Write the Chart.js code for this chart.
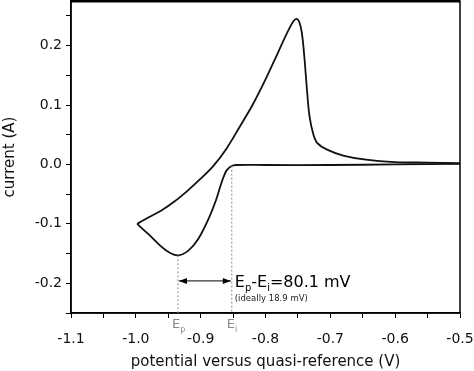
<!DOCTYPE html>
<html>
<head>
<meta charset="utf-8">
<script src="https://cdn.jsdelivr.net/npm/chart.js@4.4.0/dist/chart.umd.min.js"></script>
<style>
  html, body { margin: 0; padding: 0; background: #fff; }
  #wrap { width: 474px; height: 371px; }
</style>
</head>
<body>
<div id="wrap"><canvas id="cv"></canvas></div>
<script>
// cyclic voltammogram
// cathodic sweep: from -0.5 V down to the vertex
var potentialDown = [-0.50, -0.60, -0.70, -0.80, -0.845, -0.853, -0.860, -0.865, -0.870, -0.876, -0.888, -0.904, -0.919, -0.935, -0.950, -0.965, -0.981, -0.998];
var currentDown   = [0.001, 0.000, -0.001, -0.001, -0.001, -0.003, -0.010, -0.022, -0.038, -0.059, -0.092, -0.126, -0.145, -0.153, -0.147, -0.134, -0.117, -0.100];
// anodic sweep: back from the vertex to -0.5 V
var potentialUp = [-0.998, -0.980, -0.960, -0.940, -0.920, -0.900, -0.880, -0.860, -0.840, -0.820, -0.800, -0.780, -0.765, -0.757, -0.752, -0.748, -0.744, -0.740, -0.736, -0.732, -0.726, -0.720, -0.705, -0.680, -0.645, -0.600, -0.550, -0.500];
var currentUp   = [-0.100, -0.089, -0.077, -0.062, -0.044, -0.024, -0.002, 0.027, 0.063, 0.100, 0.143, 0.190, 0.225, 0.241, 0.245, 0.240, 0.222, 0.180, 0.125, 0.080, 0.050, 0.036, 0.025, 0.015, 0.008, 0.004, 0.003, 0.002];

var Ep = -0.935, EpCurrent = -0.153;
var Ei = -0.852, EiCurrent = -0.002;
var arrowCurrent = -0.196;
var xMin = -1.1, xMax = -0.5, yMin = -0.25, yMax = 0.275;

function toPoints(xs, ys) {
    var out = [];
    for (let i = 0; i < xs.length; i++) out.push({x: xs[i], y: ys[i]});
    return out;
}

var FONT = "'DejaVu Sans', sans-serif";

function majorLabel(v) {
    var k = Math.round(v * 20);
    if (k % 2 !== 0) return '';
    return (k / 20).toFixed(1);
}

// frame + the Ep/Ei marks
var marks = {
    id: 'marks',
    afterDatasetsDraw(chart) {
        const ctx = chart.ctx, xs = chart.scales.x, ys = chart.scales.y, a = chart.chartArea;
        ctx.save();
        ctx.strokeStyle = '#000';
        ctx.lineWidth = 1.5;
        ctx.strokeRect(a.left, a.top, a.right - a.left, a.bottom - a.top);
        ctx.lineWidth = 3;
        ctx.beginPath(); ctx.moveTo(a.left, a.top); ctx.lineTo(a.right, a.top); ctx.stroke();

        // dotted guides
        ctx.strokeStyle = '#888';
        ctx.lineWidth = 1;
        ctx.setLineDash([2, 2]);
        var xp = xs.getPixelForValue(Ep), xi = xs.getPixelForValue(Ei);
        ctx.beginPath();
        ctx.moveTo(xp, ys.getPixelForValue(EpCurrent)); ctx.lineTo(xp, a.bottom);
        ctx.moveTo(xi, ys.getPixelForValue(EiCurrent)); ctx.lineTo(xi, a.bottom);
        ctx.stroke();
        ctx.setLineDash([]);

        // double arrow
        var ya = ys.getPixelForValue(arrowCurrent);
        ctx.strokeStyle = '#000';
        ctx.fillStyle = '#000';
        ctx.beginPath(); ctx.moveTo(xp + 1, ya); ctx.lineTo(xi - 1, ya); ctx.stroke();
        ctx.beginPath(); ctx.moveTo(xp + 1, ya); ctx.lineTo(xp + 9, ya - 3); ctx.lineTo(xp + 9, ya + 3); ctx.closePath(); ctx.fill();
        ctx.beginPath(); ctx.moveTo(xi - 1, ya); ctx.lineTo(xi - 9, ya - 3); ctx.lineTo(xi - 9, ya + 3); ctx.closePath(); ctx.fill();

        // label
        ctx.textBaseline = 'alphabetic';
        ctx.textAlign = 'left';
        var tx = xi + 3, ty = ya + 6;
        function part(s, size, dy, col) {
            ctx.font = size + 'px ' + FONT;
            ctx.fillStyle = col || '#000';
            ctx.fillText(s, tx, ty + dy);
            tx += ctx.measureText(s).width;
        }
        part('E', 16, 0); part('p', 10, 4); part('-E', 16, 0); part('i', 10, 4); part('=80.1 mV', 16, 0);
        ctx.font = '8.5px ' + FONT;
        ctx.fillStyle = '#222';
        ctx.fillText('(ideally 18.9 mV)', xi + 3, ya + 20);

        // Ep / Ei under the axis
        var yb = a.bottom + 15;
        tx = xp - 6; ty = yb;
        part('E', 13, 0, '#888'); part('p', 8, 4, '#888');
        tx = xi - 5; ty = yb;
        part('E', 13, 0, '#888'); part('i', 8, 4, '#888');
        ctx.restore();
    }
};

var lineStyle = { showLine: true, borderColor: '#111', borderWidth: 1.8, pointRadius: 0, tension: 0.35, fill: false };

new Chart(document.getElementById('cv'), {
    type: 'scatter',
    data: {
        datasets: [
            Object.assign({ data: toPoints(potentialDown, currentDown) }, lineStyle),
            Object.assign({ data: toPoints(potentialUp, currentUp) }, lineStyle)
        ]
    },
    options: {
        responsive: true,
        maintainAspectRatio: false,
        animation: false,
        layout: { autoPadding: false, padding: { top: 1, right: 14, left: 0, bottom: 0 } },
        plugins: { legend: { display: false }, tooltip: { enabled: false } },
        scales: {
            x: {
                type: 'linear', min: xMin, max: xMax,
                afterFit(s) { s.height = 58; s.paddingLeft = 0; s.paddingRight = 0; },
                border: { display: true, color: '#000', width: 1.5 },
                grid: { display: true, drawOnChartArea: false, drawTicks: true, tickLength: 5, color: '#000' },
                ticks: { stepSize: 0.05, autoSkip: false, maxRotation: 0, padding: 13, color: '#111',
                         font: { family: FONT, size: 14 }, callback: majorLabel },
                title: { display: true, text: 'potential versus quasi-reference (V)', color: '#111',
                         font: { family: FONT, size: 15 }, padding: { top: 0, bottom: 0 } }
            },
            y: {
                type: 'linear', min: yMin, max: yMax,
                afterFit(s) { s.width = 71; s.paddingTop = 0; s.paddingBottom = 0; },
                border: { display: true, color: '#000', width: 1.5 },
                grid: { display: true, drawOnChartArea: false, drawTicks: true, tickLength: 5, color: '#000' },
                ticks: { stepSize: 0.05, includeBounds: false, autoSkip: false, padding: 4, color: '#111',
                         font: { family: FONT, size: 14 }, callback: majorLabel },
                title: { display: true, text: 'current (A)', color: '#111',
                         font: { family: FONT, size: 15 }, padding: { top: 1, bottom: 0 } }
            }
        }
    },
    plugins: [marks]
});
</script>
</body>
</html>
